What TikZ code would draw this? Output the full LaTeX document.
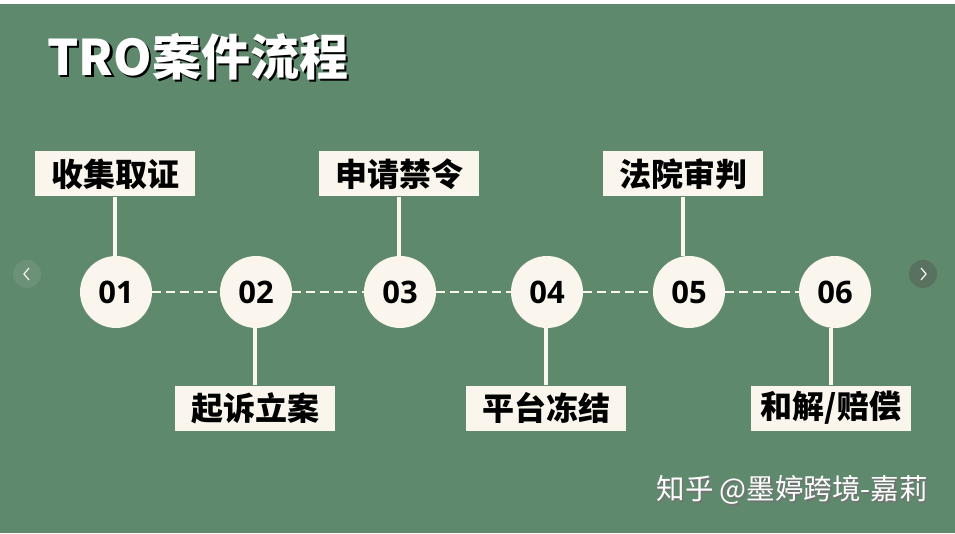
\documentclass[tikz,border=0pt]{standalone}
\usepackage{fontspec}
\usepackage{tikz}
\usetikzlibrary{positioning}
\setmainfont{Noto Sans CJK SC}
\newfontfamily\numfont{Open Sans}
\definecolor{boardgreen}{HTML}{5E896D}
\definecolor{chalkcream}{HTML}{FAF6EE}
\definecolor{navgray}{HTML}{58725F}
% text with a drop shadow, set in one box
\newcommand{\shadowed}[3]{\rlap{\raisebox{-#3}{\hspace*{#3}\textcolor{#2}{#1}}}#1}
\tikzset{
  stepnum/.style={circle, fill=chalkcream, minimum size=72pt, inner sep=0pt,
                  font=\numfont\bfseries\fontsize{31}{31}\selectfont},
  stepbox/.style={rectangle, fill=chalkcream, minimum width=160pt, minimum height=45pt,
                  inner sep=0pt, font=\bfseries\fontsize{32}{32}\selectfont},
  stem/.style={chalkcream, line width=4pt},
  dashlink/.style={chalkcream, line width=2pt, dash pattern=on 9pt off 5pt},
  navbtn/.style={circle, fill=navgray, minimum size=28pt, inner sep=0pt},
  chevron/.style={chalkcream!85, line width=1.2pt},
}

\begin{document}
\begin{tikzpicture}[x=1pt,y=1pt]
  \useasboundingbox (0,0) rectangle (955,533);
  \fill[boardgreen] (0,0) rectangle (955,533);
  \fill[white] (0,529) rectangle (955,533);
  % title
  \node[anchor=west,white,font=\bfseries\fontsize{49}{49}\selectfont] (title) at (44,475)
    {\shadowed{TRO案件流程}{black}{2.2pt}};
  % timeline
  \node[stepnum] (c1) at (116,241){01};
  \node[stepnum] (c2) at (256,241){02};
  \node[stepnum] (c3) at (400,241){03};
  \node[stepnum] (c4) at (547,241){04};
  \node[stepnum] (c5) at (689,241){05};
  \node[stepnum] (c6) at (835,241){06};
  \draw[dashlink] (c1) -- (c2);
  \draw[dashlink] (c2) -- (c3);
  \draw[dashlink] (c3) -- (c4);
  \draw[dashlink] (c4) -- (c5);
  \draw[dashlink] (c5) -- (c6);
  \node[stepbox] (b1) at (115,359){收集取证};
  \node[stepbox] (b3) at (399,359){申请禁令};
  \node[stepbox] (b5) at (683,359){法院审判};
  \node[stepbox] (b2) at (255,125){起诉立案};
  \node[stepbox] (b4) at (546,125){平台冻结};
  \node[stepbox] (b6) at (831,125){和解/赔偿};
  \draw[stem] (b1.south) -- (b1.south |- c1.north);
  \draw[stem] (b3.south) -- (b3.south |- c3.north);
  \draw[stem] (b5.south) -- (b5.south |- c5.north);
  \draw[stem] (b2.north) -- (b2.north |- c2.south);
  \draw[stem] (b4.north) -- (b4.north |- c4.south);
  \draw[stem] (b6.north) -- (b6.north |- c6.south);
  % carousel buttons
  \node[navbtn, fill=boardgreen!92!white] (prev) at (27,259){};
  \node[navbtn] (next) at (923,259){};
  \draw[chevron] ([xshift=2pt,yshift=6pt]prev.center) -- ([xshift=-3pt]prev.center)
    -- ([xshift=2pt,yshift=-6pt]prev.center);
  \draw[chevron] ([xshift=-2pt,yshift=6pt]next.center) -- ([xshift=3pt]next.center)
    -- ([xshift=-2pt,yshift=-6pt]next.center);
  % watermark
  \node[anchor=west,white,font=\fontsize{28.5}{28.5}\selectfont] (mark) at (653,42)
    {\shadowed{知乎 @墨婷跨境-嘉莉}{black!55}{1.3pt}};
\end{tikzpicture}
\end{document}
